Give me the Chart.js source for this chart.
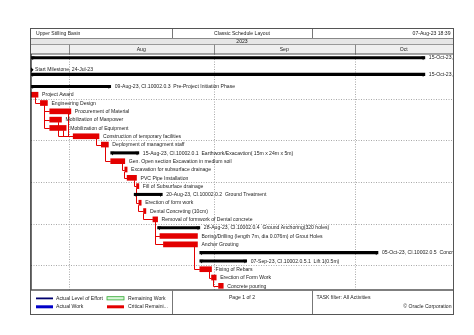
<!DOCTYPE html>
<html>
<head>
<meta charset="utf-8">
<script src="https://cdn.jsdelivr.net/npm/chart.js@4.4.0/dist/chart.umd.min.js"></script>
<style>
  html, body { margin: 0; padding: 0; background: #fff; }
  canvas { display: block; }
</style>
</head>
<body>
<canvas id="gantt" width="474" height="335"></canvas>
<script>
// ---- Schedule rows, top to bottom ----
const kinds = [
  'wbs', 'milestone', 'wbs', 'summary',
  'task', 'task', 'task', 'task', 'task', 'task', 'task',
  'summary', 'task', 'task', 'task', 'task',
  'summary', 'task', 'task', 'task',
  'summary', 'task', 'task',
  'summary', 'summary', 'task', 'task', 'task'
];
const names = [
  '', 'Start Milestone', '', 'Pre-Project Initiation Phase',
  'Project Award', 'Engineering Design', 'Procurement of Material',
  'Mobilization of Manpower', 'Mobilization of Equipment',
  'Construction of temporary facilities', 'Deployment of managment staff',
  'Earthwork/Exacavtion( 15m x 24m x 5m)', 'Gen. Open section Excavation in medium soil',
  'Excavation for subsurface drainage', 'PVC Pipe Installation', 'Fill of Subsurface drainage',
  'Ground Treatment', 'Erection of form work', 'Dental Concreting (10cm)',
  'Removal of formwork of Dental concrete',
  'Ground Anchoring(320 holes)', 'Boring/Drilling (length 7m, dia 0.076m) of Grout Holes',
  'Anchor Grouting',
  'Concrete', 'Lift 1(0.5m)', 'Fixing of Rebars', 'Erection of Form Work', 'Concrete pouring'
];
const codes = [
  '', '', '', 'CI.10002.0.3',
  '', '', '', '', '', '', '',
  'CI.10002.0.1', '', '', '', '',
  'CI.10002.0.2', '', '', '',
  'CI.10002.0.4', '', '',
  'CI.10002.0.5', 'CI.10002.0.5.1', '', '', ''
];
// start / finish instants ("YYYY-MM-DD" or "YYYY-MM-DD HH")
const starts = [
  '2023-07-24', '2023-07-24', '2023-07-24', '2023-07-24',
  '2023-07-24', '2023-07-26', '2023-07-28', '2023-07-28', '2023-07-28', '2023-08-02', '2023-08-08',
  '2023-08-10', '2023-08-10', '2023-08-13', '2023-08-13 12', '2023-08-15 12',
  '2023-08-15', '2023-08-16', '2023-08-17', '2023-08-19',
  '2023-08-20', '2023-08-20 12', '2023-08-21 06',
  '2023-08-29', '2023-08-29', '2023-08-29', '2023-08-31 12', '2023-09-02'
];
const finishes = [
  '2023-10-16', '2023-07-24', '2023-10-16', '2023-08-10',
  '2023-07-25 12', '2023-07-27 12', '2023-08-01 12', '2023-07-30 12', '2023-07-31 12', '2023-08-07 12', '2023-08-09 12',
  '2023-08-16', '2023-08-13', '2023-08-13 12', '2023-08-15 12', '2023-08-16',
  '2023-08-21', '2023-08-16 12', '2023-08-17 12', '2023-08-20',
  '2023-08-29', '2023-08-28 12', '2023-08-28 12',
  '2023-10-06', '2023-09-08', '2023-08-31 12', '2023-09-01 12', '2023-09-03'
];
// finish-to-start relationships, by row number (1-based)
const links = [
  [5, 6], [6, 7], [6, 8], [6, 9], [7, 10], [8, 10], [9, 10], [10, 11], [11, 13],
  [13, 14], [14, 15], [15, 16], [16, 18], [18, 19], [19, 20], [20, 22], [20, 23],
  [23, 26], [26, 27], [27, 28]
];
// timescale
const timeStart = '2023-07-24';
const timeEnd = '2023-10-22';
const yearLabel = '2023';
const monthStarts = ['2023-08-01', '2023-09-01', '2023-10-01'];
const monthNames = ['Aug', 'Sep', 'Oct'];

// header / footer texts
const projectName = 'Upper Stilling Basin';
const layoutName = 'Classic Schedule Layout';
const printDate = '07-Aug-23 18:39';
const pageText = 'Page 1 of 2';
const filterText = 'TASK filter: All Activities';
const copyrightText = '\u00A9 Oracle Corporation';
const legendItems = ['Actual Level of Effort', 'Remaining Work', 'Actual Work', 'Critical Remaini...'];

// ---- helpers ----
const MON = ['Jan','Feb','Mar','Apr','May','Jun','Jul','Aug','Sep','Oct','Nov','Dec'];
function dayNum(s) {
  const [d, h] = s.split(' ');
  const [Y, M, D] = d.split('-').map(Number);
  return (Date.UTC(Y, M - 1, D) + (Number(h) || 0) * 3600000) / 86400000;
}
function fmtDay(v) {
  const dt = new Date(Math.round(v * 86400000));
  return String(dt.getUTCDate()).padStart(2, '0') + '-' + MON[dt.getUTCMonth()] + '-' +
    String(dt.getUTCFullYear()).slice(2);
}

const RED = '#e30000';
const FONT = '5.1px "Liberation Sans", Arial, sans-serif';
const TXT = '#1c1c1c';

const rows = kinds.map((k, i) => ({
  row: i + 1, kind: k, name: names[i], code: codes[i],
  s: dayNum(starts[i]), f: dayNum(finishes[i])
}));
// project-level bars ride at the top of their row
const rowY = r => (r.kind === 'wbs' ? r.row - 0.45 : r.row);

function rowLabel(r) {
  if (r.kind === 'task') return r.name;
  if (r.kind === 'milestone') return r.name + ', ' + fmtDay(r.s);
  let t = fmtDay(r.f - 1 / 24) + ',';
  if (r.code) t += ' ' + r.code;
  if (r.name) t += '  ' + r.name;
  return t;
}

const taskData = rows.filter(r => r.kind === 'task').map(r => ({ x: [r.s, r.f], y: rowY(r) }));
const summaryData = rows.filter(r => r.kind === 'summary' || r.kind === 'wbs')
  .map(r => ({ x: [r.s, r.f], y: rowY(r) }));
const milestoneData = rows.filter(r => r.kind === 'milestone').map(r => ({ x: r.s, y: rowY(r) }));

// frame geometry
const FR = { top: 28.5, row1: 38.5, year: 44.5, foot: 314.5, col1: 172, col2: 312 };

function hline(ctx, x1, x2, y, color, w) {
  ctx.beginPath(); ctx.strokeStyle = color; ctx.lineWidth = w || 1;
  ctx.moveTo(x1, y); ctx.lineTo(x2, y); ctx.stroke();
}
function vline(ctx, x, y1, y2, color, w) {
  ctx.beginPath(); ctx.strokeStyle = color; ctx.lineWidth = w || 1;
  ctx.moveTo(x, y1); ctx.lineTo(x, y2); ctx.stroke();
}
function text(ctx, s, x, y, align) {
  ctx.fillStyle = TXT; ctx.font = FONT; ctx.textAlign = align || 'left';
  ctx.textBaseline = 'middle'; ctx.fillText(s, x, y);
}

const ganttPlugin = {
  id: 'ganttDecor',
  beforeDraw(chart) {
    const { ctx, chartArea: a, scales: { x, y } } = chart;
    ctx.save();
    ctx.fillStyle = '#fff';
    ctx.fillRect(0, 0, chart.width, chart.height);
    // year and month bands
    ctx.fillStyle = '#e6e6e6';
    ctx.fillRect(a.left, FR.row1, a.right - a.left, FR.year - FR.row1);
    ctx.fillStyle = '#efefef';
    ctx.fillRect(a.left, FR.year, a.right - a.left, a.top - FR.year);
    // dotted grid: month boundaries and every fifth row
    ctx.setLineDash([1, 1.5]);
    monthStarts.forEach(m => {
      const px = Math.round(x.getPixelForValue(dayNum(m))) + 0.5;
      vline(ctx, px, a.top, a.bottom, '#a8a8a8', 1);
    });
    for (let k = 5; k < kinds.length; k += 5) {
      const py = Math.round(y.getPixelForValue(k + 0.5)) + 0.5;
      hline(ctx, a.left, a.right, py, '#a8a8a8', 1);
    }
    ctx.setLineDash([]);
    ctx.restore();
  },
  beforeDatasetsDraw(chart) {
    const { ctx, scales: { x, y } } = chart;
    ctx.save();
    ctx.strokeStyle = RED; ctx.lineWidth = 1;
    links.forEach(([p, s]) => {
      const pr = rows[p - 1], sr = rows[s - 1];
      const pEnd = x.getPixelForValue(pr.f);
      const sStart = x.getPixelForValue(sr.s);
      const vx = Math.round(Math.min(pEnd - 3, sStart - 1.5)) + 0.5;
      const y1 = y.getPixelForValue(rowY(pr)) + 2.5;
      const y2 = Math.round(y.getPixelForValue(rowY(sr))) + 0.5;
      ctx.beginPath();
      ctx.moveTo(vx, y1); ctx.lineTo(vx, y2); ctx.lineTo(sStart, y2);
      ctx.stroke();
    });
    ctx.restore();
  },
  afterDatasetsDraw(chart) {
    const { ctx, chartArea: a, scales: { x, y } } = chart;
    ctx.save();
    ctx.beginPath(); ctx.rect(a.left, a.top, a.right - a.left, a.bottom - a.top); ctx.clip();
    rows.forEach(r => {
      const cy = y.getPixelForValue(rowY(r));
      let lx;
      if (r.kind === 'summary' || r.kind === 'wbs') {
        const x0 = x.getPixelForValue(r.s), x1 = x.getPixelForValue(r.f);
        const top = cy - 1.2;
        ctx.fillStyle = '#000';
        [[x0, x0 + 3.6], [x1 - 3.6, x1]].forEach(([u, v]) => {
          ctx.beginPath();
          ctx.moveTo(u, top); ctx.lineTo(v, top); ctx.lineTo((u + v) / 2, top + 3.8);
          ctx.closePath(); ctx.fill();
        });
        lx = x1 + 4;
      } else if (r.kind === 'milestone') {
        lx = x.getPixelForValue(r.s) + 4;
      } else {
        lx = x.getPixelForValue(r.f) + 4;
      }
      text(ctx, rowLabel(r), lx, cy + 0.3);
    });
    ctx.restore();
  },
  afterDraw(chart) {
    const { ctx, chartArea: a, scales: { x } } = chart;
    const L = a.left, R = a.right;
    ctx.save();
    // header row 1
    text(ctx, projectName, L + 5, (FR.top + FR.row1) / 2 + 0.5);
    text(ctx, layoutName, (FR.col1 + FR.col2) / 2, (FR.top + FR.row1) / 2 + 0.5, 'center');
    text(ctx, printDate, R - 2.5, (FR.top + FR.row1) / 2 + 0.5, 'right');
    vline(ctx, FR.col1 + 0.5, FR.top, FR.row1, '#777');
    vline(ctx, FR.col2 + 0.5, FR.top, FR.row1, '#777');
    hline(ctx, L, R, FR.row1, '#888');
    // year row
    text(ctx, yearLabel, (L + R) / 2, (FR.row1 + FR.year) / 2 + 0.3, 'center');
    hline(ctx, L, R, FR.year, '#999');
    // month row
    const xmax = x.max;
    monthStarts.forEach((m, i) => {
      const v0 = dayNum(m);
      const v1 = i + 1 < monthStarts.length ? dayNum(monthStarts[i + 1]) : xmax;
      const p0 = x.getPixelForValue(v0), p1 = x.getPixelForValue(Math.min(v1, xmax));
      vline(ctx, Math.round(p0) + 0.5, FR.year, a.top, '#888');
      text(ctx, monthNames[i], (p0 + p1) / 2, (FR.year + a.top) / 2 + 0.3, 'center');
    });
    hline(ctx, L, R, a.top, '#555', 1.2);
    // gantt bounds
    vline(ctx, L, a.top, a.bottom, '#111', 1.2);
    hline(ctx, L, R, a.bottom, '#555', 1.6);
    // footer
    vline(ctx, FR.col1 + 0.5, a.bottom, FR.foot, '#777');
    vline(ctx, FR.col2 + 0.5, a.bottom, FR.foot, '#777');
    const ly1 = 298.3, ly2 = 306.8;
    // legend swatches
    ctx.fillStyle = '#00006e'; ctx.fillRect(36, ly1 - 0.8, 17, 1.8);
    ctx.fillStyle = '#d8f5d8'; ctx.fillRect(107, ly1 - 1.6, 17, 3.2);
    ctx.strokeStyle = '#2fa82f'; ctx.lineWidth = 0.8; ctx.strokeRect(107, ly1 - 1.6, 17, 3.2);
    ctx.fillStyle = '#0000c8'; ctx.fillRect(36, ly2 - 1.5, 17, 3);
    ctx.fillStyle = RED; ctx.fillRect(107, ly2 - 1.5, 17, 3);
    text(ctx, legendItems[0], 56, ly1);
    text(ctx, legendItems[1], 128, ly1);
    text(ctx, legendItems[2], 56, ly2);
    text(ctx, legendItems[3], 128, ly2);
    text(ctx, pageText, (FR.col1 + FR.col2) / 2, ly1 - 0.5, 'center');
    text(ctx, filterText, FR.col2 + 4.5, ly1 - 0.5);
    text(ctx, copyrightText, R - 1.5, ly2, 'right');
    // outer frame
    ctx.strokeStyle = '#555'; ctx.lineWidth = 1;
    ctx.strokeRect(L - 0.5, FR.top, R - L + 1, FR.foot - FR.top);
    ctx.restore();
  }
};

new Chart(document.getElementById('gantt'), {
  type: 'bar',
  data: {
    datasets: [
      {
        label: 'Critical Remaining Work', data: taskData, backgroundColor: RED,
        barThickness: 5, grouped: false, borderWidth: 0, order: 2
      },
      {
        label: 'WBS Summary', data: summaryData, backgroundColor: '#000',
        barThickness: 2.4, grouped: false, borderWidth: 0, order: 1
      },
      {
        type: 'scatter', label: 'Milestone', data: milestoneData,
        pointStyle: 'rectRot', pointRadius: 2.6, backgroundColor: '#000',
        borderWidth: 0, clip: 0, order: 0
      }
    ]
  },
  options: {
    indexAxis: 'y',
    responsive: false,
    animation: false,
    events: [],
    layout: { padding: { left: 31, right: 21, top: 54, bottom: 45 } },
    scales: {
      x: { type: 'linear', min: dayNum(timeStart), max: dayNum(timeEnd), display: false },
      y: { type: 'linear', reverse: true, min: 0.1, max: kinds.length + 0.5, offset: false, display: false }
    },
    plugins: { legend: { display: false }, tooltip: { enabled: false } }
  },
  plugins: [ganttPlugin]
});
</script>
</body>
</html>
